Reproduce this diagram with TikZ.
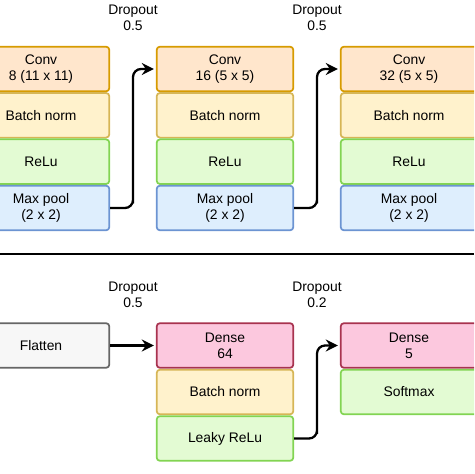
\documentclass[tikz,border=0pt]{standalone}
\usepackage{fontspec}
\setmainfont{Liberation Sans}
\usetikzlibrary{arrows.meta}

\definecolor{convfill}{HTML}{FFE6CC}
\definecolor{convline}{HTML}{D79B00}
\definecolor{normfill}{HTML}{FFF2CC}
\definecolor{normline}{HTML}{D6B656}
\definecolor{actfill}{HTML}{E3FBD3}
\definecolor{actline}{HTML}{82D452}
\definecolor{poolfill}{HTML}{DEEEFD}
\definecolor{poolline}{HTML}{6C94D2}
\definecolor{densefill}{HTML}{FCC8DE}
\definecolor{denseline}{HTML}{A8334F}
\definecolor{flatfill}{HTML}{F7F7F7}
\definecolor{flatline}{HTML}{666666}

\begin{document}
\begin{tikzpicture}[x=0.75pt,y=0.75pt,yscale=-1,xscale=1,
  layer/.style={draw, rounded corners=2.5pt, line width=1.3pt, minimum width=102.5pt, minimum height=33.5pt, align=center, inner sep=0pt, font=\fontsize{10.4}{12}\selectfont},
  conv/.style={layer, fill=convfill, draw=convline},
  norm/.style={layer, fill=normfill, draw=normline},
  act/.style={layer, fill=actfill, draw=actline},
  pool/.style={layer, fill=poolfill, draw=poolline},
  dense/.style={layer, fill=densefill, draw=denseline},
  flat/.style={layer, fill=flatfill, draw=flatline},
  droplabel/.style={align=center, inner sep=0pt, font=\fontsize{10.4}{12}\selectfont},
  flow/.style={line width=1.7pt, rounded corners=6pt, shorten >=1.5pt, -{Stealth[length=9pt,width=9pt,inset=3pt]}}]
\useasboundingbox (0,0) rectangle (474,474);
\clip (0,0) rectangle (474,474);

%Convolution blocks
\node [conv] (conv1) at (41,69) {Conv\\8 (11 x 11)};
\node [norm] (norm1) at (41,115.3) {Batch norm};
\node [act]  (relu1) at (41,161.7) {ReLu};
\node [pool] (pool1) at (41,208) {Max pool\\(2 x 2)};

\node [conv] (conv2) at (225,69) {Conv\\16 (5 x 5)};
\node [norm] (norm2) at (225,115.3) {Batch norm};
\node [act]  (relu2) at (225,161.7) {ReLu};
\node [pool] (pool2) at (225,208) {Max pool\\(2 x 2)};

\node [conv] (conv3) at (409,69) {Conv\\32 (5 x 5)};
\node [norm] (norm3) at (409,115.3) {Batch norm};
\node [act]  (relu3) at (409,161.7) {ReLu};
\node [pool] (pool3) at (409,208) {Max pool\\(2 x 2)};

% Text Node
\node [droplabel] (drop1) at (133,18) {Dropout\\0.5};
% Text Node
\node [droplabel] (drop2) at (317,18) {Dropout\\0.5};

%Straight Lines
\draw [flow] (pool1.east) -| (drop1.south |- pool1.east) |- (conv2.west);
\draw [flow] (pool2.east) -| (drop2.south |- pool2.east) |- (conv3.west);

%Separator
\coordinate (sepl) at (0,254);
\coordinate (sepr) at (474,254);
\draw [line width=2.2pt] (sepl) -- (sepr);

%Dense blocks
\node [flat]  (flat)   at (41,345.5) {Flatten};
\node [dense] (dense1) at (225,345.5) {Dense\\64};
\node [norm]  (norm4)  at (225,392) {Batch norm};
\node [act]   (leaky)  at (225,438.5) {Leaky ReLu};
\node [dense] (dense2) at (409,345.5) {Dense\\5};
\node [act]   (soft)   at (409,392) {Softmax};

% Text Node
\node [droplabel] (drop3) at (133,295) {Dropout\\0.5};
% Text Node
\node [droplabel] (drop4) at (317,295) {Dropout\\0.2};

%Straight Lines
\draw [flow] (flat.east) -- (dense1.west);
\draw [flow] (leaky.east) -| (drop4.south |- leaky.east) |- (dense2.west);

\end{tikzpicture}
\end{document}
